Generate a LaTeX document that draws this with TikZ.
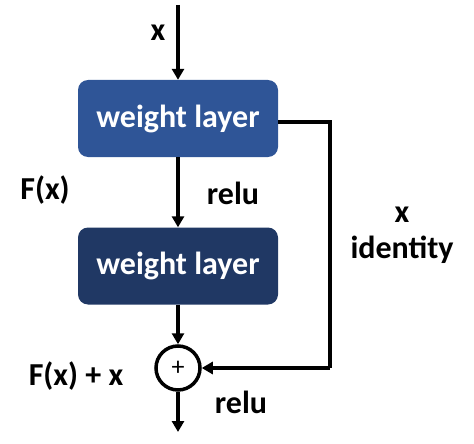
\documentclass[tikz,border=0pt]{standalone}
\usepackage{fontspec}
\setmainfont{Carlito}
\usetikzlibrary{arrows.meta}
\definecolor{boxA}{RGB}{47,85,151}
\definecolor{boxB}{RGB}{32,56,100}
\tikzset{
  wl/.style={rounded corners=10pt, minimum width=200pt, minimum height=77pt, text=white, font=\bfseries\fontsize{32}{36}\selectfont, inner sep=0pt},
  lbl/.style={font=\bfseries\fontsize{32}{36}\selectfont, inner sep=0pt},
  conn/.style={line width=3.5pt, -{Triangle[width=12pt,length=11pt]}},
}
\begin{document}
\begin{tikzpicture}[x=1pt,y=-1pt]
\useasboundingbox (0,0) rectangle (474,444);
\node[wl, fill=boxA] (w1) at (178,118.5) {weight layer};
\node[wl, fill=boxB] (w2) at (178,266) {weight layer};
\node[circle, draw, line width=3.5pt, minimum size=44pt, inner sep=0pt, font=\fontsize{26}{28}\selectfont] (sum) at (178,368) {+};
\coordinate (in) at (178,5);
\coordinate (out) at (178,432);
\coordinate (c1) at (330,122);
\coordinate (c2) at (330,368);
\draw[conn] (in) -- (w1.north);
\draw[conn] (w1.south) -- (w2.north);
\draw[conn] (w2.south) -- (sum.north);
\draw[conn] (sum.south) -- (out);
\draw[line width=3.5pt] (w1.east |- c1) -- (c1) -- (c2);
\draw[conn] (c2) -- (sum.east);
\node[lbl] (lx) at (158,33) {x};
\node[lbl] (lr1) at (233,193) {relu};
\node[lbl] (lf) at (45,190) {F(x)};
\node[lbl] (lfx) at (76,376) {F(x) + x};
\node[lbl] (lr2) at (241,402) {relu};
\node[lbl] (lxi) at (402,215) {x};
\node[lbl] (lid) at (402,250) {identity};
\end{tikzpicture}
\end{document}
